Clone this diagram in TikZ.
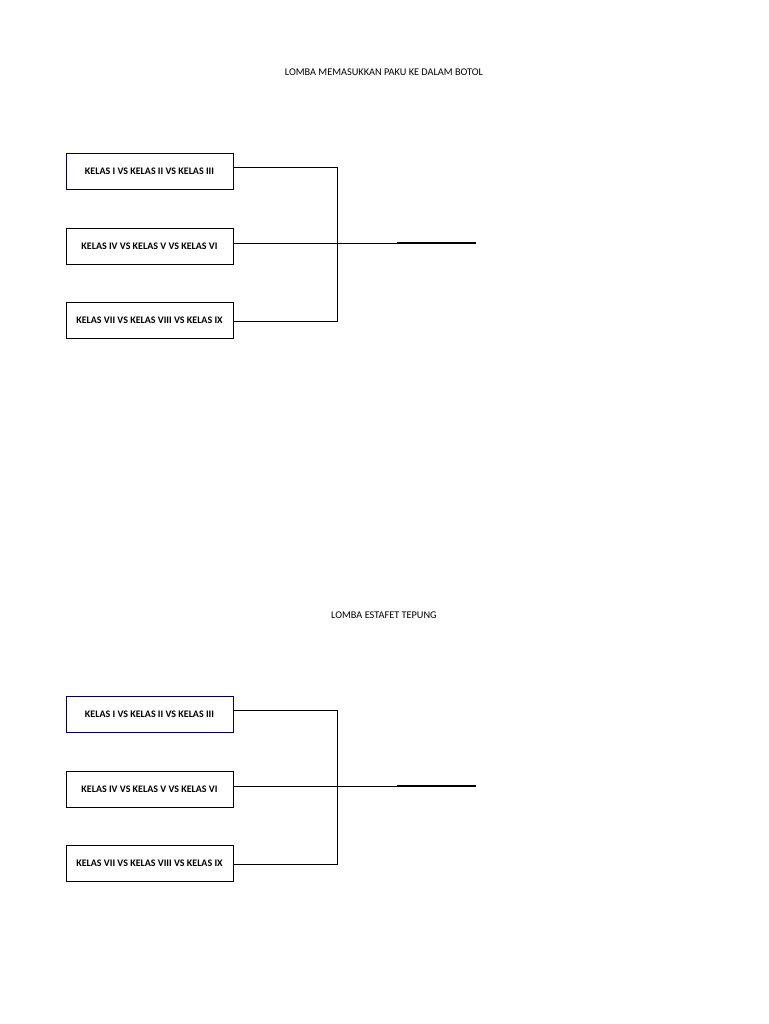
\documentclass[tikz,border=0pt]{standalone}
\usepackage{fontspec}
\setmainfont{Carlito}
\begin{document}
\begin{tikzpicture}[x=1pt,y=-1pt,
  box/.style={draw=black,line width=0.8pt,minimum width=167pt,minimum height=36pt,inner sep=0pt,font=\bfseries\fontsize{10}{11}\selectfont},
  ttl/.style={font=\fontsize{10.3}{11}\selectfont},
  ln/.style={line width=0.9pt}]
\useasboundingbox (0,0) rectangle (768,1024);
\foreach \p/\t/\o in {a/LOMBA MEMASUKKAN PAKU KE DALAM BOTOL/0, b/LOMBA ESTAFET TEPUNG/543}{
\begin{scope}[yshift=-\o pt]
\node[ttl] (\p t) at (384,72) {\t};
\node[box,draw=blue!30!black] (\p1) at (149.5,171) {KELAS I VS KELAS II VS KELAS III};
\node[box] (\p2) at (149.5,246.5) {KELAS IV VS KELAS V VS KELAS VI};
\node[box] (\p3) at (149.5,320) {KELAS VII VS KELAS VIII VS KELAS IX};
\coordinate (\p j1) at (337,167);
\coordinate (\p j3) at (337,321);
\coordinate (\p m) at (397,243);
\coordinate (\p e) at (476,243);
\draw[ln] (\p1.east |- \p j1) -- (\p j1) -- (\p j3) -- (\p3.east |- \p j3);
\draw[ln] (\p2.east |- \p m) -- (\p m);
\draw[line width=1.4pt] (\p m) -- (\p e);
\end{scope}}
\end{tikzpicture}
\end{document}
